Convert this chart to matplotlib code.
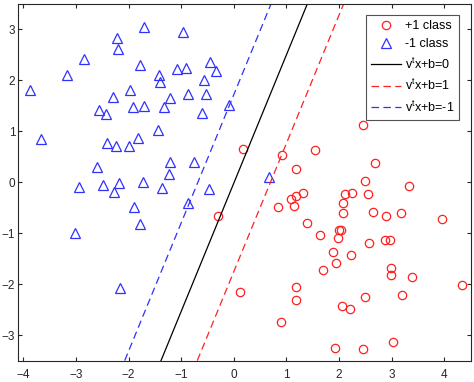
import numpy as np
import matplotlib.pyplot as plt
import matplotlib

matplotlib.rcParams['font.family'] = ['Liberation Sans', 'DejaVu Sans']
matplotlib.rcParams['mathtext.fontset'] = 'custom'
matplotlib.rcParams['mathtext.rm'] = 'Liberation Sans'
matplotlib.rcParams['mathtext.it'] = 'Liberation Sans'

# +1 class (red circles)
pos_x = [0.17, 0.91, 1.54, 1.18, 2.45, 2.68, 2.49, 3.33, -0.31, 0.12, 0.83, 1.08,
         1.19, 1.32, 1.14, 1.39, 1.64, 2.11, 2.24, 2.54, 2.08, 2.08, 2.64, 2.90,
         3.17, 3.96, 2.00, 2.03, 1.97, 2.56, 2.87, 2.96, 1.88, 2.23, 1.95, 1.70,
         2.98, 2.99, 3.39, 4.33, 1.19, 1.19, 2.49, 3.19, 2.05, 2.20, 0.90, 3.03,
         1.92, 2.45]
pos_y = [0.66, 0.53, 0.63, 0.25, 1.13, 0.38, 0.03, -0.07, -0.67, -2.15, -0.48, -0.32,
         -0.27, -0.21, -0.46, -0.81, -1.03, -0.23, -0.21, -0.23, -0.41, -0.61, -0.59, -0.66,
         -0.61, -0.73, -0.93, -0.93, -1.10, -1.20, -1.13, -1.13, -1.36, -1.42, -1.58, -1.73,
         -1.68, -1.83, -1.85, -2.02, -2.05, -2.31, -2.25, -2.21, -2.43, -2.48, -2.74, -3.13,
         -3.26, -3.28]

# -1 class (blue triangles)
neg_x = [-3.87, -3.66, -3.16, -2.84, -2.21, -2.20, -1.71, -0.96, -1.78, -1.42, -1.40,
         -1.08, -0.91, -0.45, -0.34, -0.56, -0.52, -0.88, -1.21, -1.33, -1.70, -1.92,
         -1.97, -2.30, -2.57, -2.42, -0.61, -0.10, -1.44, -1.82, -1.99, -2.24, -2.40,
         -2.59, -1.21, -0.75, -1.24, -2.94, -2.49, -2.19, -2.27, -1.73, -1.37, -0.47,
         -3.02, -1.89, -1.78, -0.87, -2.16, 0.66]
neg_y = [1.80, 0.84, 2.11, 2.42, 2.82, 2.61, 3.05, 2.94, 2.29, 2.11, 1.97,
         2.22, 2.24, 2.36, 2.18, 2.01, 1.73, 1.73, 1.66, 1.48, 1.50, 1.48,
         1.80, 1.67, 1.41, 1.33, 1.35, 1.52, 1.02, 0.86, 0.71, 0.71, 0.76,
         0.29, 0.40, 0.40, 0.17, -0.09, -0.05, -0.01, -0.20, 0.01, -0.12, -0.14,
         -0.99, -0.49, -0.82, -0.41, -2.07, 0.10]

# separating hyperplane v^t x + b = c
v = [1.45, -0.576]
b = -0.01

xlim = (-4.1, 4.5)
ylim = (-3.5, 3.5)

fig = plt.figure(figsize=(4.74, 3.82), dpi=100)
ax = fig.add_axes([0.038, 0.056, 0.955, 0.934])

ax.plot(pos_x, pos_y, 'o', mfc='none', mec='#ff2020', ms=6, mew=0.9, label='+1 class')
ax.plot(neg_x, neg_y, '^', mfc='none', mec='#3030ff', ms=7, mew=0.9, label='-1 class')

yy = np.array(ylim)
styles = [(0, 'k', '-', r'v$^{t}$x+b=0'),
          (1, '#ff2020', '--', r'v$^{t}$x+b=1'),
          (-1, '#3030ff', '--', r'v$^{t}$x+b=-1')]
for c, col, ls, lab in styles:
    xx = (c - b - v[1] * yy) / v[0]
    line, = ax.plot(xx, yy, color=col, ls=ls, lw=0.9, label=lab)
    if ls == '--':
        line.set_dashes((6, 3.5))

ax.set_xlim(xlim)
ax.set_ylim(ylim)
ax.set_xticks([-4, -3, -2, -1, 0, 1, 2, 3, 4])
ax.set_yticks([-3, -2, -1, 0, 1, 2, 3])
ax.tick_params(direction='in', top=True, right=True, length=3, width=0.8,
               labelsize=8.5, colors='#262626', pad=2)
ax.tick_params(axis='x', pad=6)
for s in ax.spines.values():
    s.set_color('#262626')
    s.set_linewidth(0.8)

leg = ax.legend(loc='upper right', fontsize=9, handlelength=2.4, frameon=True,
                fancybox=False, edgecolor='#262626', borderaxespad=0.9,
                labelspacing=0.5, handletextpad=0.3, borderpad=0.4)
leg.get_frame().set_linewidth(0.8)

plt.savefig('out.png', dpi=100)
